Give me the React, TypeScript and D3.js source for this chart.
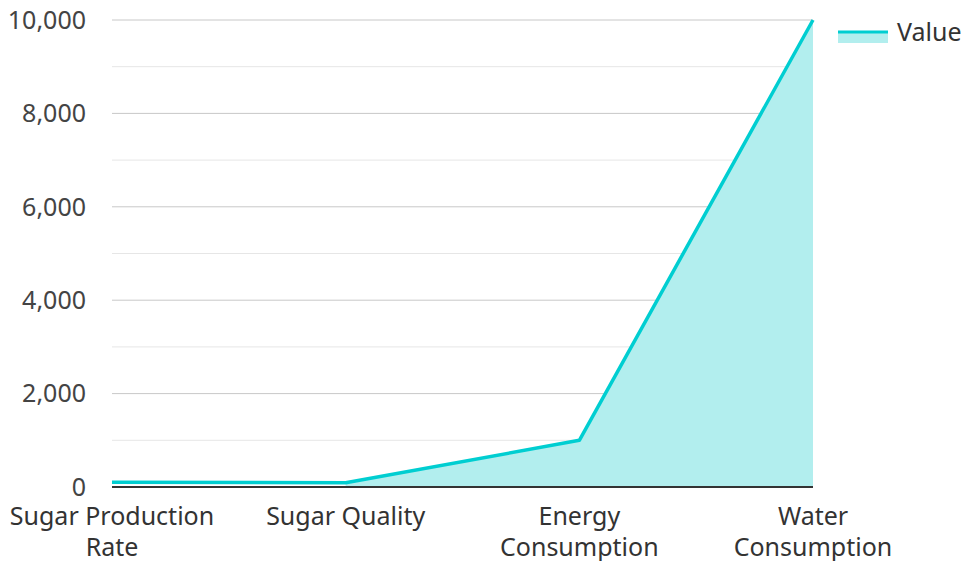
import React from "react";
import * as d3 from "d3";

const categories = ["Sugar Production Rate", "Sugar Quality", "Energy Consumption", "Water Consumption"];
const categoryLines = [["Sugar Production", "Rate"], ["Sugar Quality"], ["Energy", "Consumption"], ["Water", "Consumption"]];
const values = [100, 90, 1000, 10000];
const areaStart = 1;
const yTicks = [0, 2000, 4000, 6000, 8000, 10000];
const minorTicks = [1000, 3000, 5000, 7000, 9000];
const seriesName = "Value";

const W = 962, H = 561;
const M = { left: 112, right: 149, top: 20, bottom: 74 };
const FONT = "'Noto Sans', 'Open Sans', sans-serif";
const LINE = "#00CED1";
const FILL = "#B2EEEE";
const FS = 25;

export default function App() {
  const x = d3.scalePoint<string>().domain(categories).range([M.left, W - M.right]);
  const y = d3.scaleLinear().domain([0, 10000]).range([H - M.bottom - 0, M.top]);
  const data = categories.map((c, i) => ({ c, v: values[i], i }));
  const line = d3.line<any>().x(d => x(d.c)!).y(d => y(d.v));
  const area = d3.area<any>().x(d => x(d.c)!).y0(y(0)).y1(d => y(d.v));
  const x0 = M.left, x1 = W - M.right;
  return (
    <svg width={W} height={H} style={{ position: "absolute", left: 0, top: 0 }} fontFamily={FONT}>
      <rect width={W} height={H} fill="#fff" />
      {minorTicks.map(t => (
        <line key={"m" + t} x1={x0} x2={x1} y1={y(t)} y2={y(t)} stroke="#e6e6e6" strokeWidth={1} />
      ))}
      {yTicks.filter(t => t > 0).map(t => (
        <line key={"g" + t} x1={x0} x2={x1} y1={y(t)} y2={y(t)} stroke="#c8c8c8" strokeWidth={1} />
      ))}
      <path d={area(data.slice(areaStart))!} fill={FILL} />
      <path d={line(data)!} fill="none" stroke={LINE} strokeWidth={3.5} strokeLinejoin="round" />
      <line x1={x0} x2={x1} y1={y(0)} y2={y(0)} stroke="#333" strokeWidth={2} />
      {yTicks.map(t => (
        <text key={"t" + t} x={86} y={y(t)} dy="0.35em" textAnchor="end" fontSize={FS} fill="#444">
          {d3.format(",")(t)}
        </text>
      ))}
      {categoryLines.map((lines, i) => (
        <text key={"c" + i} x={x(categories[i])!} y={525} textAnchor="middle" fontSize={FS} fill="#333">
          {lines.map((l, j) => (
            <tspan key={j} x={x(categories[i])!} dy={j === 0 ? 0 : 31}>{l}</tspan>
          ))}
        </text>
      ))}
      <g>
        <rect x={838} y={32} width={50} height={11} fill={FILL} />
        <line x1={838} x2={888} y1={32} y2={32} stroke={LINE} strokeWidth={3} />
        <text x={897} y={32} dy="0.35em" fontSize={FS} fill="#333">{seriesName}</text>
      </g>
    </svg>
  );
}
